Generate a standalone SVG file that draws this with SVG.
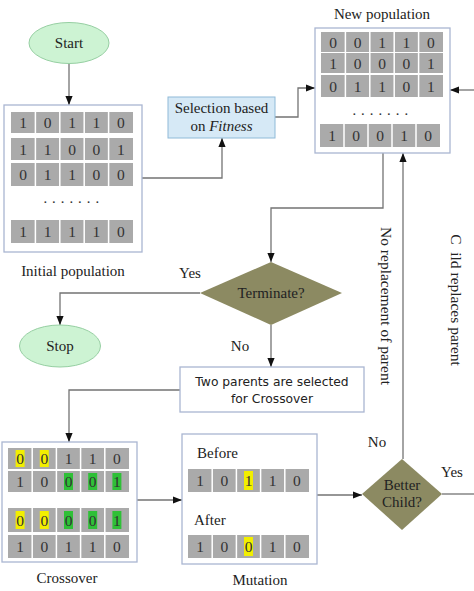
<svg xmlns="http://www.w3.org/2000/svg" width="474" height="591" viewBox="0 0 474 591">
<defs>
<marker id="ah" viewBox="0 0 10 10" refX="10" refY="5" markerWidth="9" markerHeight="9" markerUnits="userSpaceOnUse" orient="auto"><path d="M0,1 L10,5 L0,9 z" fill="#111"/></marker>
<style>
.t{font-family:"Liberation Serif","Times New Roman",serif;font-size:15px;fill:#222;text-anchor:middle}
.st{text-anchor:start}
.s{font-family:"DejaVu Sans","Liberation Sans",sans-serif;font-size:12.3px;fill:#222;text-anchor:middle}
.d{font-family:"Liberation Serif",serif;font-size:15.5px;fill:#333;text-anchor:middle}
.box{fill:#fff;stroke:#aab6d2;stroke-width:1.3}
.row{fill:#aaaaaa}
.sep{stroke:#fff;stroke-width:1.5}
.ell{fill:#cdf3d3;stroke:#96cfa2;stroke-width:1}
.dia{fill:#8c8a62}
.c{fill:none;stroke:#737373;stroke-width:1.3}
.y{fill:#f2ef00}
.g{fill:#2fc037}
</style>
</defs>
<g id="connectors">
<path class="c" d="M69,63 V105" marker-end="url(#ah)"/>
<path class="c" d="M142,178 H222 V138" marker-end="url(#ah)"/>
<path class="c" d="M275,117 H298 V88 H315" marker-end="url(#ah)"/>
<path class="c" d="M474,90 H450" marker-end="url(#ah)"/>
<path class="c" d="M383,153 V208 H271 V262" marker-end="url(#ah)"/>
<path class="c" d="M200,293 H60 V325" marker-end="url(#ah)"/>
<path class="c" d="M271,325 V367" marker-end="url(#ah)"/>
<path class="c" d="M180,390 H69 V442" marker-end="url(#ah)"/>
<path class="c" d="M137,500 H182" marker-end="url(#ah)"/>
<path class="c" d="M317,495 H362" marker-end="url(#ah)"/>
<path class="c" d="M403,459 V153" marker-end="url(#ah)"/>
<path class="c" d="M442,494 H474"/>
</g>
<g id="labels">
<text class="t" x="190" y="278">Yes</text>
<text class="t" x="240" y="351">No</text>
<text class="t" x="377" y="447">No</text>
<text class="t" x="452" y="477">Yes</text>
<text class="t" transform="translate(381,306) rotate(90)" style="font-size:15.5px">No replacement of parent</text>
<text class="t" transform="translate(451,300) rotate(90)" style="font-size:15.5px">C&#160;&#160;ild replaces parent</text>
</g>
<g id="start">
<ellipse class="ell" cx="69" cy="43" rx="40" ry="20.5"/>
<text class="t" x="69" y="48">Start</text>
</g>
<g id="initial-population">
<rect class="box" x="4" y="105" width="138" height="147"/>
<rect class="row" x="11" y="112" width="122" height="21"/>
<rect class="row" x="11" y="138" width="122" height="22"/>
<rect class="row" x="11" y="163" width="122" height="23"/>
<rect class="row" x="11" y="220" width="122" height="23"/>
<path class="sep" d="M35.4,112V133M59.8,112V133M84.2,112V133M108.6,112V133M35.4,138V160M59.8,138V160M84.2,138V160M108.6,138V160M35.4,163V186M59.8,163V186M84.2,163V186M108.6,163V186M35.4,220V243M59.8,220V243M84.2,220V243M108.6,220V243"/>
<text class="d" y="128"><tspan x="23.2">1</tspan><tspan x="47.6">0</tspan><tspan x="72">1</tspan><tspan x="96.4">1</tspan><tspan x="120.8">0</tspan></text>
<text class="d" y="154.5"><tspan x="23.2">1</tspan><tspan x="47.6">1</tspan><tspan x="72">0</tspan><tspan x="96.4">0</tspan><tspan x="120.8">1</tspan></text>
<text class="d" y="180"><tspan x="23.2">0</tspan><tspan x="47.6">1</tspan><tspan x="72">1</tspan><tspan x="96.4">0</tspan><tspan x="120.8">0</tspan></text>
<text class="d" x="73" y="207" letter-spacing="3.5">·······</text>
<text class="d" y="237"><tspan x="23.2">1</tspan><tspan x="47.6">1</tspan><tspan x="72">1</tspan><tspan x="96.4">1</tspan><tspan x="120.8">0</tspan></text>
<text class="t" x="73" y="276">Initial population</text>
</g>
<g id="selection">
<rect x="168" y="97" width="107" height="41" fill="#d6e9f6" stroke="#8fbad8" stroke-width="1"/>
<text class="t" x="221.5" y="113">Selection based</text>
<text class="t" x="221.5" y="131">on <tspan font-style="italic">Fitness</tspan></text>
</g>
<g id="new-population">
<text class="t" x="382" y="19">New population</text>
<rect class="box" x="315" y="28" width="135" height="125"/>
<rect class="row" x="321" y="32" width="122" height="20"/>
<rect class="row" x="321" y="53" width="122" height="20"/>
<rect class="row" x="321" y="75" width="122" height="22"/>
<rect class="row" x="320" y="124" width="120" height="23"/>
<path class="sep" d="M345.4,32V97M369.8,32V97M394.2,32V97M418.6,32V97M344,124V147M368,124V147M392,124V147M416,124V147"/>
<text class="d" y="47.5"><tspan x="333.2">0</tspan><tspan x="357.6">0</tspan><tspan x="382">1</tspan><tspan x="406.4">1</tspan><tspan x="430.8">0</tspan></text>
<text class="d" y="68.5"><tspan x="333.2">1</tspan><tspan x="357.6">0</tspan><tspan x="382">0</tspan><tspan x="406.4">0</tspan><tspan x="430.8">1</tspan></text>
<text class="d" y="91.5"><tspan x="333.2">0</tspan><tspan x="357.6">1</tspan><tspan x="382">1</tspan><tspan x="406.4">0</tspan><tspan x="430.8">1</tspan></text>
<text class="d" x="382" y="119" letter-spacing="3.5">·······</text>
<text class="d" y="141"><tspan x="332">1</tspan><tspan x="356">0</tspan><tspan x="380">0</tspan><tspan x="404">1</tspan><tspan x="428">0</tspan></text>
</g>
<g id="terminate">
<polygon class="dia" points="271,262 342,293 271,325 200,293"/>
<text class="t" x="271" y="298">Terminate?</text>
</g>
<g id="stop">
<ellipse class="ell" cx="60" cy="346" rx="40.5" ry="21"/>
<text class="t" x="60" y="351">Stop</text>
</g>
<g id="two-parents">
<rect class="box" x="180" y="367" width="184" height="45"/>
<text class="s" x="272" y="386">Two parents are selected</text>
<text class="s" x="272" y="403">for Crossover</text>
</g>
<g id="crossover">
<rect class="box" x="2" y="442" width="135" height="120"/>
<rect class="row" x="8" y="448" width="121" height="21"/>
<rect class="row" x="8" y="471" width="121" height="21"/>
<rect class="row" x="8" y="508" width="121" height="24"/>
<rect class="row" x="8" y="535" width="121" height="23"/>
<path class="sep" d="M32.2,448V492M56.4,448V492M80.6,448V492M104.8,448V492M32.2,508V558M56.4,508V558M80.6,508V558M104.8,508V558"/>
<rect class="y" x="15.6" y="450" width="9" height="17"/>
<rect class="y" x="39.8" y="450" width="9" height="17"/>
<rect class="g" x="64" y="473" width="9" height="17"/>
<rect class="g" x="88.2" y="473" width="9" height="17"/>
<rect class="g" x="112.4" y="473" width="9" height="17"/>
<rect class="y" x="15.6" y="511" width="9" height="18"/>
<rect class="y" x="39.8" y="511" width="9" height="18"/>
<rect class="g" x="64" y="511" width="9" height="18"/>
<rect class="g" x="88.2" y="511" width="9" height="18"/>
<rect class="g" x="112.4" y="511" width="9" height="18"/>
<text class="d" y="464"><tspan x="20.1">0</tspan><tspan x="44.3">0</tspan><tspan x="68.5">1</tspan><tspan x="92.7">1</tspan><tspan x="116.9">0</tspan></text>
<text class="d" y="487"><tspan x="20.1">1</tspan><tspan x="44.3">0</tspan><tspan x="68.5">0</tspan><tspan x="92.7">0</tspan><tspan x="116.9">1</tspan></text>
<text class="d" y="525.5"><tspan x="20.1">0</tspan><tspan x="44.3">0</tspan><tspan x="68.5">0</tspan><tspan x="92.7">0</tspan><tspan x="116.9">1</tspan></text>
<text class="d" y="552"><tspan x="20.1">1</tspan><tspan x="44.3">0</tspan><tspan x="68.5">1</tspan><tspan x="92.7">1</tspan><tspan x="116.9">0</tspan></text>
<text class="t" x="67" y="583">Crossover</text>
</g>
<g id="mutation">
<rect class="box" x="182" y="434" width="135" height="130"/>
<text class="t st" x="197" y="458">Before</text>
<rect class="row" x="188" y="469" width="121" height="23"/>
<rect class="y" x="244" y="471" width="9" height="19"/>
<text class="t st" x="194" y="525">After</text>
<rect class="row" x="188" y="535" width="121" height="23"/>
<rect class="y" x="244" y="537" width="9" height="19"/>
<path class="sep" d="M212.2,469V492M236.4,469V492M260.6,469V492M284.8,469V492M212.2,535V558M236.4,535V558M260.6,535V558M284.8,535V558"/>
<text class="d" y="486"><tspan x="200.1">1</tspan><tspan x="224.3">0</tspan><tspan x="248.5">1</tspan><tspan x="272.7">1</tspan><tspan x="296.9">0</tspan></text>
<text class="d" y="552"><tspan x="200.1">1</tspan><tspan x="224.3">0</tspan><tspan x="248.5">0</tspan><tspan x="272.7">1</tspan><tspan x="296.9">0</tspan></text>
<text class="t" x="260" y="585">Mutation</text>
</g>
<g id="better-child">
<polygon class="dia" points="402,459 442,494 402,530 362,494"/>
<text class="t" x="402" y="490">Better</text>
<text class="t" x="402" y="507">Child?</text>
</g>
</svg>
